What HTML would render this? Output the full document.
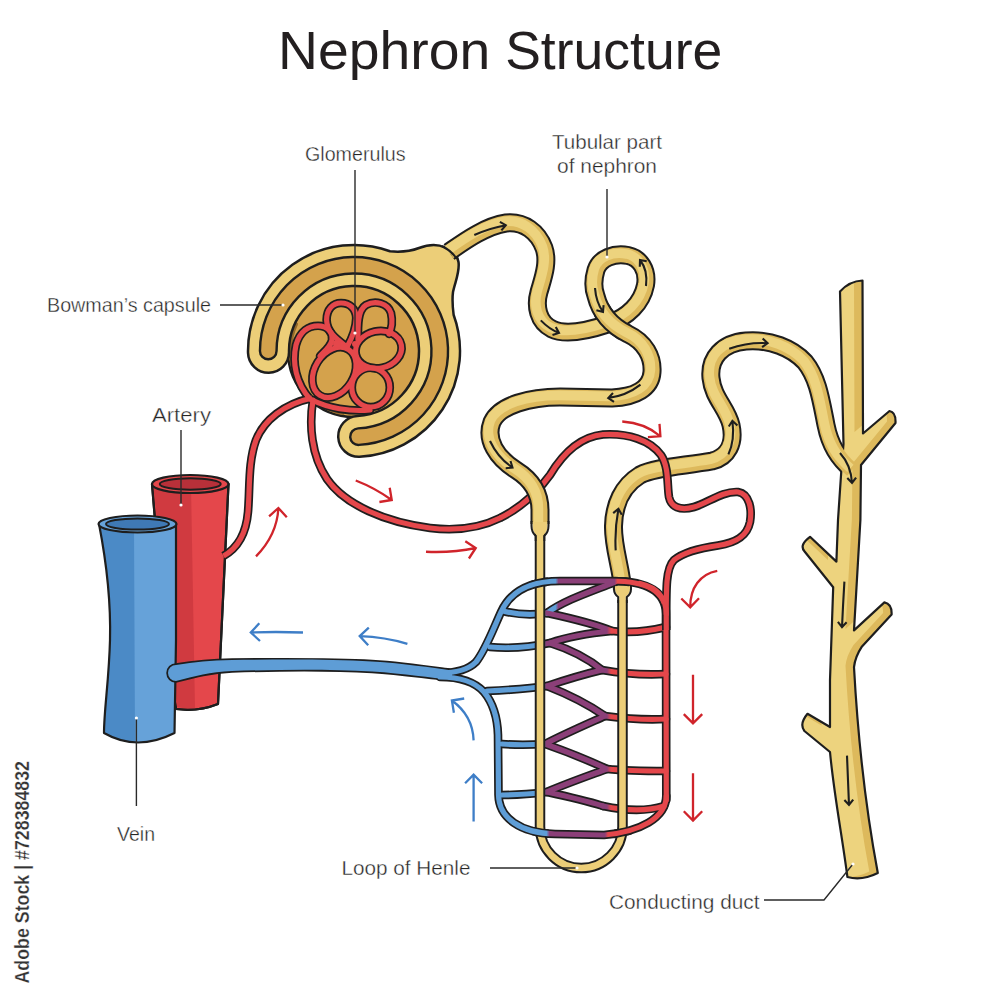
<!DOCTYPE html>
<html>
<head>
<meta charset="utf-8">
<style>
html,body{margin:0;padding:0;background:#fff;width:1000px;height:1000px;overflow:hidden;}
svg{display:block;}
text{font-family:"Liberation Sans",sans-serif;}
</style>
</head>
<body>
<svg width="1000" height="1000" viewBox="0 0 1000 1000">
<defs>
<linearGradient id="vr" gradientUnits="userSpaceOnUse" x1="0" y1="0" x2="1000" y2="0">
<stop offset="0.543" stop-color="#5e9dd6"/><stop offset="0.546" stop-color="#8b3f78"/><stop offset="0.607" stop-color="#8b3f78"/><stop offset="0.611" stop-color="#e4474b"/>
</linearGradient>
<linearGradient id="vt" gradientUnits="userSpaceOnUse" x1="0" y1="0" x2="1000" y2="0">
<stop offset="0.5555" stop-color="#5e9dd6"/><stop offset="0.5585" stop-color="#8b3f78"/><stop offset="0.6145" stop-color="#8b3f78"/><stop offset="0.6175" stop-color="#e4474b"/>
</linearGradient>
<linearGradient id="vb" gradientUnits="userSpaceOnUse" x1="0" y1="0" x2="1000" y2="0">
<stop offset="0.5465" stop-color="#5e9dd6"/><stop offset="0.5495" stop-color="#8b3f78"/><stop offset="0.605" stop-color="#8b3f78"/><stop offset="0.608" stop-color="#e4474b"/>
</linearGradient>
<mask id="nx" maskUnits="userSpaceOnUse" x="0" y="0" width="1000" height="1000"><rect width="1000" height="1000" fill="#000"/><circle cx="540" cy="581.5" r="9" fill="#fff"/><circle cx="622.5" cy="581" r="9" fill="#fff"/><circle cx="540" cy="833" r="9.5" fill="#fff"/><circle cx="622.5" cy="834" r="9.5" fill="#fff"/></mask>
<mask id="cx1" maskUnits="userSpaceOnUse" x="0" y="0" width="1000" height="1000"><rect width="1000" height="1000" fill="#000"/><circle cx="612" cy="322" r="19" fill="#fff"/></mask>
</defs>
<rect width="1000" height="1000" fill="#fff"/>
<g font-size="53" fill="#231f20"><text x="278" y="69.4" textLength="212.3" lengthAdjust="spacingAndGlyphs">Nephron</text><text x="505.2" y="69.4" textLength="217" lengthAdjust="spacingAndGlyphs">Structure</text></g>
<g fill="#262626" font-size="21" stroke="#fff" stroke-width="0.38">
<text x="305" y="161" textLength="100.6" lengthAdjust="spacingAndGlyphs">Glomerulus</text>
<text x="552" y="148.5" textLength="110" lengthAdjust="spacingAndGlyphs">Tubular part</text>
<text x="557" y="172.5" textLength="100" lengthAdjust="spacingAndGlyphs">of nephron</text>
<text x="47" y="312" textLength="164" lengthAdjust="spacingAndGlyphs">Bowman’s capsule</text>
<text x="152" y="421.5" textLength="59" lengthAdjust="spacingAndGlyphs">Artery</text>
<text x="117" y="841" textLength="38" lengthAdjust="spacingAndGlyphs">Vein</text>
<text x="341.5" y="874.5" textLength="129" lengthAdjust="spacingAndGlyphs">Loop of Henle</text>
<text x="609" y="908.5" textLength="150.5" lengthAdjust="spacingAndGlyphs">Conducting duct</text>
</g>
<text transform="translate(28.8,983.5) rotate(-90)" x="0" y="0" font-size="19.5" font-weight="bold" fill="#333" stroke="#fff" stroke-width="0.25" textLength="222.5" lengthAdjust="spacingAndGlyphs">Adobe Stock | #728384832</text>
<g id="diagram" stroke-linecap="round" stroke-linejoin="round">
<g id="artery">
<path d="M152,484 L165,640 L176,709 Q198,712 218,704 L228.5,484 Z" fill="#e4474b" stroke="#1e1e1e" stroke-width="2.2"/>
<path d="M153.2,486 L177,707 Q186,709 195,708.5 L191,486 Z" fill="#d03a40"/>
<path d="M152,484 L165,640 L176,709 Q198,712 218,704 L228.5,484" fill="none" stroke="#1e1e1e" stroke-width="2.2"/>
<ellipse cx="190.25" cy="484" rx="38.25" ry="9" fill="#e4474b" stroke="#1e1e1e" stroke-width="2.2"/>
<ellipse cx="190.25" cy="484" rx="30.5" ry="5.8" fill="#b73039" stroke="#1e1e1e" stroke-width="2"/>
</g>
<g id="vein">
<path d="M99,524 C106,560 111,600 110,640 C109,680 104,710 104,733 Q137,752 174.5,733 L176,640 L176,524 Z" fill="#66a2d9"/>
<path d="M99,524 C106,560 111,600 110,640 C109,680 104,710 104,733 Q118,741 135,742.5 L134,524 Z" fill="#4b8ac6"/>
<path d="M99,524 C106,560 111,600 110,640 C109,680 104,710 104,733 Q137,752 174.5,733 L176,640 L176,524" fill="none" stroke="#1e1e1e" stroke-width="2.2"/>
<ellipse cx="137.5" cy="524" rx="39" ry="8.5" fill="#66a2d9" stroke="#1e1e1e" stroke-width="2.2"/>
<ellipse cx="137.5" cy="524" rx="31.5" ry="5.6" fill="#3f79b5" stroke="#1e1e1e" stroke-width="2"/>
</g>
<g id="asc" fill="none" stroke-linecap="butt">
<path d="M622.5,590 C622,570 613,548 613.5,526 C614,505 622,486 640,475 C655,467 685,466 712,461 C728,457 735,443 731,425 C727,408 713,398 711,378 C709,358 722,343 746,341 C770,339 792,348 805,362 C818,378 821,400 826,425 C830,445 838,458 852,470" stroke="#1e1e1e" stroke-width="19"/>
<clipPath id="ductclip"><path d="M840,291.5 Q849.5,281 862.5,280.5 L863,433.5 L889.5,411 Q896,412 895.5,423 L861,465 L860.4,520 L854,630.4 L884.4,602.4 Q892,604 891.6,614.4 L862,646.4 Q855,657 854,667.2 C858,740 866,810 877.8,873 Q862,881 847.4,877 C842,835 834,795 830,752 L804.4,731 Q799,724 807.5,713.8 L830,727 L830,680 L833.2,587.2 L804.4,551.2 Q799,545 810,536.8 L836.4,561.6 L838,520 L841.5,468 L843.5,444 Z"/></clipPath>
<path d="M840,291.5 Q849.5,281 862.5,280.5 L863,433.5 L889.5,411 Q896,412 895.5,423 L861,465 L860.4,520 L854,630.4 L884.4,602.4 Q892,604 891.6,614.4 L862,646.4 Q855,657 854,667.2 C858,740 866,810 877.8,873 Q862,881 847.4,877 C842,835 834,795 830,752 L804.4,731 Q799,724 807.5,713.8 L830,727 L830,680 L833.2,587.2 L804.4,551.2 Q799,545 810,536.8 L836.4,561.6 L838,520 L841.5,468 L843.5,444 Z" fill="#ddb95c" stroke="none"/>
<g clip-path="url(#ductclip)"><path d="M840,291.5 Q849.5,281 862.5,280.5 L863,433.5 L889.5,411 Q896,412 895.5,423 L861,465 L860.4,520 L854,630.4 L884.4,602.4 Q892,604 891.6,614.4 L862,646.4 Q855,657 854,667.2 C858,740 866,810 877.8,873 Q862,881 847.4,877 C842,835 834,795 830,752 L804.4,731 Q799,724 807.5,713.8 L830,727 L830,680 L833.2,587.2 L804.4,551.2 Q799,545 810,536.8 L836.4,561.6 L838,520 L841.5,468 L843.5,444 Z" fill="#edd37e" transform="translate(-8.5,-1.5)"/></g>
<path d="M840,291.5 Q849.5,281 862.5,280.5 L863,433.5 L889.5,411 Q896,412 895.5,423 L861,465 L860.4,520 L854,630.4 L884.4,602.4 Q892,604 891.6,614.4 L862,646.4 Q855,657 854,667.2 C858,740 866,810 877.8,873 Q862,881 847.4,877 C842,835 834,795 830,752 L804.4,731 Q799,724 807.5,713.8 L830,727 L830,680 L833.2,587.2 L804.4,551.2 Q799,545 810,536.8 L836.4,561.6 L838,520 L841.5,468 L843.5,444 Z" fill="none" stroke="#1e1e1e" stroke-width="2.2" stroke-linejoin="round"/>
<path d="M622.5,590 C622,570 613,548 613.5,526 C614,505 622,486 640,475 C655,467 685,466 712,461 C728,457 735,443 731,425 C727,408 713,398 711,378 C709,358 722,343 746,341 C770,339 792,348 805,362 C818,378 821,400 826,425 C830,445 838,458 852,470" stroke="#ddb95c" stroke-width="15"/>
<path d="M622.5,590 C622,570 613,548 613.5,526 C614,505 622,486 640,475 C655,467 685,466 712,461 C728,457 735,443 731,425 C727,408 713,398 711,378 C709,358 722,343 746,341 C770,339 792,348 805,362 C818,378 821,400 826,425 C830,445 838,458 852,470" stroke="#edd37e" stroke-width="9.6" transform="translate(-1.6,-1.6)"/>
</g>
<g id="network"><g fill="none" stroke-linecap="round"><path d="M176,665 C195,662 210,660.5 232,660 C280,659.5 330,659 372,661.5 C405,663.5 430,667.5 452,670.5 L452,679.5 C430,678 405,673.5 372,671.5 C330,669 280,669.5 232,671 C210,672 195,676 176,681 A8,8 0 0 1 176,665 Z" fill="#1e1e1e" stroke="#1e1e1e" stroke-width="3.5"/><g stroke="#1e1e1e" stroke-width="8.6"><path d="M440,673 C456,673 468,670 476,662 C485,651 492,632 501,612 C510,592 528,581 560,581 L612,581 C645,581 666,590 666,614 L666.3,800"/><path d="M440,677 C458,677 474,681 484,692 C493,703 497.5,718 498,735 L498.5,795 C499,818 520,833 555,834 L604,835 C640,832 666,818 666.3,796"/><path d="M503,611 C515,614 528,616 547,613"/><path d="M490,647 C510,649 530,647 550,643"/><path d="M487,691 C508,690 528,689 547,686"/><path d="M502,744 C515,745 530,745 545,744"/><path d="M502,795 C515,795 530,794 547,792"/><path d="M615,582 C590,592 565,600 547,613"/><path d="M547,613 C570,618 595,624 612,631 C590,633 567,637 550,643 C572,650 590,660 602,670 C585,674 565,680 547,686 C570,695 592,707 605,716 C585,725 562,735 545,744 C568,752 592,762 607,769 C588,776 565,784 547,792 C570,797 590,802 603,806"/><path d="M612,631 C630,633 650,631 666,627"/><path d="M602,670 C625,674 648,675 666,674"/><path d="M605,716 C628,719 648,720 666,719"/><path d="M607,769 C628,771 648,771 666,771"/><path d="M603,806 C622,810 645,812 664,806"/></g><path d="M176,665 C195,662 210,660.5 232,660 C280,659.5 330,659 372,661.5 C405,663.5 430,667.5 452,670.5 L452,679.5 C430,678 405,673.5 372,671.5 C330,669 280,669.5 232,671 C210,672 195,676 176,681 A8,8 0 0 1 176,665 Z" fill="#5e9dd6"/><g stroke-width="5.2"><path d="M440,673 C456,673 468,670 476,662 C485,651 492,632 501,612 C510,592 528,581 560,581 L612,581 C645,581 666,590 666,614 L666.3,800" stroke="url(#vt)"/><path d="M440,677 C458,677 474,681 484,692 C493,703 497.5,718 498,735 L498.5,795 C499,818 520,833 555,834 L604,835 C640,832 666,818 666.3,796" stroke="url(#vb)"/><path d="M503,611 C515,614 528,616 547,613" stroke="url(#vr)"/><path d="M490,647 C510,649 530,647 550,643" stroke="url(#vr)"/><path d="M487,691 C508,690 528,689 547,686" stroke="url(#vr)"/><path d="M502,744 C515,745 530,745 545,744" stroke="url(#vr)"/><path d="M502,795 C515,795 530,794 547,792" stroke="url(#vr)"/><path d="M615,582 C590,592 565,600 547,613" stroke="url(#vt)"/><path d="M547,613 C570,618 595,624 612,631 C590,633 567,637 550,643 C572,650 590,660 602,670 C585,674 565,680 547,686 C570,695 592,707 605,716 C585,725 562,735 545,744 C568,752 592,762 607,769 C588,776 565,784 547,792 C570,797 590,802 603,806" stroke="url(#vr)"/><path d="M612,631 C630,633 650,631 666,627" stroke="url(#vr)"/><path d="M602,670 C625,674 648,675 666,674" stroke="url(#vr)"/><path d="M605,716 C628,719 648,720 666,719" stroke="url(#vr)"/><path d="M607,769 C628,771 648,771 666,771" stroke="url(#vr)"/><path d="M603,806 C622,810 645,812 664,806" stroke="url(#vr)"/></g></g></g>
<g id="capsule">
<circle cx="354" cy="351" r="66" fill="#d4a24c" stroke="#1e1e1e" stroke-width="2.5"/>
<path d="M342.97,413.54 A63.5,63.5 0 0 1 296.45,324.16" fill="none" stroke="#94692a" stroke-width="3.2" stroke-linecap="round"/>
<path d="M248.02,352.85 A106,106 0 0 1 390,251.3 C400,252.2 410,251.5 419,248 C428,244.5 437,243.5 445,247.5 C452,251 457,254 458.5,262 C460,272 455,282 453,292 C452,300 453,310 453.6,314.7 A106,106 0 0 1 359.55,456.85 A20.5,20.5 0 0 1 357.4,415.91 A65,65 0 1 0 289.01,352.13 A20.5,20.5 0 0 1 248.02,352.85 Z" fill="#ecce78" stroke="#1e1e1e" stroke-width="2.5"/>
<path d="M268.25,351 A85.75,85.75 0 1 1 358.49,436.63" fill="none" stroke="#1e1e1e" stroke-width="19"/>
<path d="M268.25,351 A85.75,85.75 0 1 1 358.49,436.63" fill="none" stroke="#d4a24c" stroke-width="14.2"/>
</g>
<g id="thin" fill="none" stroke-linecap="butt">
<path d="M540,524 L540,826.75 A41.25,41.25 0 0 0 622.5,826.75 L622.5,600" stroke="#1e1e1e" stroke-width="10.5"/>
<path d="M540,524 L540,826.75 A41.25,41.25 0 0 0 622.5,826.75 L622.5,600" stroke="#ecce78" stroke-width="6.6"/>
<path d="M615,585.5 L630,585.5 L630,589 Q630,593.5 625.8,596.5 L625.8,603 L619.2,603 L619.2,596.5 Q615,593.5 615,589 Z" fill="#ecce78" stroke="none"/>
<path d="M614,586 L614,589 Q614,594 618.2,597 L618.2,603 M631,586 L631,589 Q631,594 626.8,597 L626.8,603" stroke="#1e1e1e" stroke-width="2"/>
</g>
<g mask="url(#nx)"><g fill="none" stroke-linecap="round"><path d="M176,665 C195,662 210,660.5 232,660 C280,659.5 330,659 372,661.5 C405,663.5 430,667.5 452,670.5 L452,679.5 C430,678 405,673.5 372,671.5 C330,669 280,669.5 232,671 C210,672 195,676 176,681 A8,8 0 0 1 176,665 Z" fill="#1e1e1e" stroke="#1e1e1e" stroke-width="3.5"/><g stroke="#1e1e1e" stroke-width="8.6"><path d="M440,673 C456,673 468,670 476,662 C485,651 492,632 501,612 C510,592 528,581 560,581 L612,581 C645,581 666,590 666,614 L666.3,800"/><path d="M440,677 C458,677 474,681 484,692 C493,703 497.5,718 498,735 L498.5,795 C499,818 520,833 555,834 L604,835 C640,832 666,818 666.3,796"/><path d="M503,611 C515,614 528,616 547,613"/><path d="M490,647 C510,649 530,647 550,643"/><path d="M487,691 C508,690 528,689 547,686"/><path d="M502,744 C515,745 530,745 545,744"/><path d="M502,795 C515,795 530,794 547,792"/><path d="M615,582 C590,592 565,600 547,613"/><path d="M547,613 C570,618 595,624 612,631 C590,633 567,637 550,643 C572,650 590,660 602,670 C585,674 565,680 547,686 C570,695 592,707 605,716 C585,725 562,735 545,744 C568,752 592,762 607,769 C588,776 565,784 547,792 C570,797 590,802 603,806"/><path d="M612,631 C630,633 650,631 666,627"/><path d="M602,670 C625,674 648,675 666,674"/><path d="M605,716 C628,719 648,720 666,719"/><path d="M607,769 C628,771 648,771 666,771"/><path d="M603,806 C622,810 645,812 664,806"/></g><path d="M176,665 C195,662 210,660.5 232,660 C280,659.5 330,659 372,661.5 C405,663.5 430,667.5 452,670.5 L452,679.5 C430,678 405,673.5 372,671.5 C330,669 280,669.5 232,671 C210,672 195,676 176,681 A8,8 0 0 1 176,665 Z" fill="#5e9dd6"/><g stroke-width="5.2"><path d="M440,673 C456,673 468,670 476,662 C485,651 492,632 501,612 C510,592 528,581 560,581 L612,581 C645,581 666,590 666,614 L666.3,800" stroke="url(#vt)"/><path d="M440,677 C458,677 474,681 484,692 C493,703 497.5,718 498,735 L498.5,795 C499,818 520,833 555,834 L604,835 C640,832 666,818 666.3,796" stroke="url(#vb)"/><path d="M503,611 C515,614 528,616 547,613" stroke="url(#vr)"/><path d="M490,647 C510,649 530,647 550,643" stroke="url(#vr)"/><path d="M487,691 C508,690 528,689 547,686" stroke="url(#vr)"/><path d="M502,744 C515,745 530,745 545,744" stroke="url(#vr)"/><path d="M502,795 C515,795 530,794 547,792" stroke="url(#vr)"/><path d="M615,582 C590,592 565,600 547,613" stroke="url(#vt)"/><path d="M547,613 C570,618 595,624 612,631 C590,633 567,637 550,643 C572,650 590,660 602,670 C585,674 565,680 547,686 C570,695 592,707 605,716 C585,725 562,735 545,744 C568,752 592,762 607,769 C588,776 565,784 547,792 C570,797 590,802 603,806" stroke="url(#vr)"/><path d="M612,631 C630,633 650,631 666,627" stroke="url(#vr)"/><path d="M602,670 C625,674 648,675 666,674" stroke="url(#vr)"/><path d="M605,716 C628,719 648,720 666,719" stroke="url(#vr)"/><path d="M607,769 C628,771 648,771 666,771" stroke="url(#vr)"/><path d="M603,806 C622,810 645,812 664,806" stroke="url(#vr)"/></g></g></g>
<g id="redgroup" fill="none" stroke-linecap="round">
<g stroke="#1e1e1e" stroke-width="8.6"><path d="M310,399 C296,383 292,363 296,345 C300,331 309,325.8 318,325.8 C327,325.8 333,332 332,340 C331,346 326,350 320,356"/><path d="M347,347 C338,340 327,333 326.6,320 C326.6,309 333,303 341,303 C350,303 356,309 356.2,318 C356,330 351,340 347,347 Z"/><path d="M358,340 C357.8,325 357.8,310 366,305 C375,300 388,303 391,313 C393,322 392,328 389,334"/><path d="M312,400 C328,408 350,412 370,410"/><ellipse cx="334.2" cy="372.4" rx="27" ry="19.5" transform="rotate(-58 334.2 372.4)"/><ellipse cx="378.6" cy="349.6" rx="23.2" ry="18.5" transform="rotate(-12 378.6 349.6)"/><ellipse cx="370.8" cy="387.4" rx="19" ry="19.6"/><path d="M223.5,556 C236,549 246,536 248,512 C250,488 248,462 256,440 C264,420 284,404 312,398" stroke-linecap="butt"/><path d="M313,400 C309,425 311,455 327,479 C345,505 385,522 430,528 C455,531 480,528 500,518"/><path d="M500,518 C520,508 537,493 550,475 C562,455 578,437 603,434.5 C628,433 650,440 661,455 C669,467 667,485 669,497 C671,507 680,511 694,507 C708,503 722,491 738,492 C750,494 752,510 750,522 C747,537 735,543 718,545.5 C700,548 684,552 674,560 C666,568 666,585 666.3,630" stroke-linecap="butt"/></g>
<g stroke="#e4474b" stroke-width="5.2"><path d="M310,399 C296,383 292,363 296,345 C300,331 309,325.8 318,325.8 C327,325.8 333,332 332,340 C331,346 326,350 320,356"/><path d="M347,347 C338,340 327,333 326.6,320 C326.6,309 333,303 341,303 C350,303 356,309 356.2,318 C356,330 351,340 347,347 Z"/><path d="M358,340 C357.8,325 357.8,310 366,305 C375,300 388,303 391,313 C393,322 392,328 389,334"/><path d="M312,400 C328,408 350,412 370,410"/><ellipse cx="334.2" cy="372.4" rx="27" ry="19.5" transform="rotate(-58 334.2 372.4)"/><ellipse cx="378.6" cy="349.6" rx="23.2" ry="18.5" transform="rotate(-12 378.6 349.6)"/><ellipse cx="370.8" cy="387.4" rx="19" ry="19.6"/><path d="M223.5,556 C236,549 246,536 248,512 C250,488 248,462 256,440 C264,420 284,404 312,398" stroke-linecap="butt"/><path d="M313,400 C309,425 311,455 327,479 C345,505 385,522 430,528 C455,531 480,528 500,518"/><path d="M500,518 C520,508 537,493 550,475 C562,455 578,437 603,434.5 C628,433 650,440 661,455 C669,467 667,485 669,497 C671,507 680,511 694,507 C708,503 722,491 738,492 C750,494 752,510 750,522 C747,537 735,543 718,545.5 C700,548 684,552 674,560 C666,568 666,585 666.3,630" stroke-linecap="butt"/><path d="M640,583.5 C655,587 666,596 666.3,614"/><g fill="#e4474b" stroke="none"><circle cx="337" cy="344" r="4"/><circle cx="360" cy="367" r="3.5"/><circle cx="355" cy="344" r="3"/></g></g>
</g>
<g id="pct" fill="none" stroke-linecap="butt">
<path d="M449,252 C462,243 485,226 506,223 C524,221 538,232 544,248 C549,262 543,278 539,292 C535,306 538,322 552,329 C566,336 590,330 608,324 C628,317 642,303 645.5,285 C648,270 640,258 628,255.5 C614,253 600,258 596,270 C593,280 593,288 596,296 C600,312 610,325 628,334 C645,342 653,357 652,372 C651,388 636,397 612,398 L560,397 C530,397 500,405 492,422 C485,440 497,458 516,470 C532,480 540,494 540,510 L540,524" stroke="#1e1e1e" stroke-width="19"/><path d="M449,252 C462,243 485,226 506,223 C524,221 538,232 544,248 C549,262 543,278 539,292 C535,306 538,322 552,329 C566,336 590,330 608,324 C628,317 642,303 645.5,285 C648,270 640,258 628,255.5 C614,253 600,258 596,270 C593,280 593,288 596,296 C600,312 610,325 628,334 C645,342 653,357 652,372 C651,388 636,397 612,398 L560,397 C530,397 500,405 492,422 C485,440 497,458 516,470 C532,480 540,494 540,510 L540,524" stroke="#ddb95c" stroke-width="15"/><path d="M449,252 C462,243 485,226 506,223 C524,221 538,232 544,248 C549,262 543,278 539,292 C535,306 538,322 552,329 C566,336 590,330 608,324 C628,317 642,303 645.5,285 C648,270 640,258 628,255.5 C614,253 600,258 596,270 C593,280 593,288 596,296 C600,312 610,325 628,334 C645,342 653,357 652,372 C651,388 636,397 612,398 L560,397 C530,397 500,405 492,422 C485,440 497,458 516,470 C532,480 540,494 540,510 L540,524" stroke="#edd37e" stroke-width="9.6" transform="translate(-1.6,-1.6)"/>
<g mask="url(#cx1)"><path d="M596,296 C600,312 610,325 628,334 C645,342 653,357 652,372 C651,388 636,397 612,398 L560,397 C530,397 500,405 492,422 C485,440 497,458 516,470 C532,480 540,494 540,510 L540,524" stroke="#1e1e1e" stroke-width="19"/><path d="M596,296 C600,312 610,325 628,334 C645,342 653,357 652,372 C651,388 636,397 612,398 L560,397 C530,397 500,405 492,422 C485,440 497,458 516,470 C532,480 540,494 540,510 L540,524" stroke="#ddb95c" stroke-width="15"/><path d="M596,296 C600,312 610,325 628,334 C645,342 653,357 652,372 C651,388 636,397 612,398 L560,397 C530,397 500,405 492,422 C485,440 497,458 516,470 C532,480 540,494 540,510 L540,524" stroke="#edd37e" stroke-width="9.6" transform="translate(-1.6,-1.6)"/></g>
<path d="M442,246 Q451,250.5 456.8,258.8" stroke="#1e1e1e" stroke-width="2"/>
<path d="M532.5,522 L547.5,522 L547.5,526 Q547.5,531.5 543.3,535.5 L543.3,541 L536.7,541 L536.7,535.5 Q532.5,531.5 532.5,526 Z" fill="#ecce78"/>
<path d="M531.5,521 L531.5,526 Q531.5,532 535.7,536 L535.7,541 M548.5,521 L548.5,526 Q548.5,532 544.3,536 L544.3,541" stroke="#1e1e1e" stroke-width="2"/>
</g>
<g id="arrows" fill="none" stroke-linecap="butt" stroke-linejoin="miter"><path d="M256,556.4 Q277,535 278.4,508 M286.8,517.3 L278.4,508 L269.1,516.4" stroke="#d0242b" stroke-width="2.3"/>
<path d="M355.75,480.5 Q375,488 391.75,500 M379.4,502.0 L391.75,500 L389.7,487.7" stroke="#d0242b" stroke-width="2.3"/>
<path d="M426,551.75 Q452,553 475.75,548 M468.9,558.5 L475.75,548 L465.3,541.2" stroke="#d0242b" stroke-width="2.3"/>
<path d="M622.25,421.5 Q645,423 660.4,436.25 M647.9,437.2 L660.4,436.25 L659.5,423.8" stroke="#d0242b" stroke-width="2.3"/>
<path d="M717.25,570.8 C700,574 690,588 690.25,607.25 M681.3,598.5 L690.25,607.25 L699.0,598.3" stroke="#d0242b" stroke-width="2.3"/>
<path d="M693,674.75 L693,723.3 M683.8,714.1 L693,723.3 L702.2,714.1" stroke="#d0242b" stroke-width="2.3"/>
<path d="M693,773.3 L693,820.5 M683.8,811.3 L693,820.5 L702.2,811.3" stroke="#d0242b" stroke-width="2.3"/>
<path d="M303,632.5 Q275,631.5 250.8,632.5 M259.3,623.3 L250.8,632.5 L260.0,641.0" stroke="#3e7ec7" stroke-width="2.3"/>
<path d="M407.4,643.8 Q385,637 359.7,636.1 M368.8,627.6 L359.7,636.1 L368.2,645.2" stroke="#3e7ec7" stroke-width="2.3"/>
<path d="M473.6,740.4 C473,722 465,710 451.9,700.5 M464.2,698.5 L451.9,700.5 L453.9,712.8" stroke="#3e7ec7" stroke-width="2.3"/>
<path d="M473.6,821.6 L473.6,774.7 M482.1,783.2 L473.6,774.7 L465.1,783.2" stroke="#3e7ec7" stroke-width="2.3"/>
<path d="M474.3,235 Q490,228 505.8,225.2 M501.4,230.4 L505.8,225.2 L499.9,221.8" stroke="#1e1e1e" stroke-width="2.1"/>
<path d="M540.8,320.4 Q549,329 559,333 M552.5,335.1 L559,333 L555.8,327.0" stroke="#1e1e1e" stroke-width="2.1"/>
<path d="M595,288 Q596,302 603,312 M596.4,310.2 L603,312 L603.6,305.2" stroke="#1e1e1e" stroke-width="2.1"/>
<path d="M646,286 Q648,270 640,260 M646.7,261.3 L640,260 L639.8,266.8" stroke="#1e1e1e" stroke-width="2.1"/>
<path d="M640.5,384.7 Q626,396 608.3,398 M613.0,393.1 L608.3,398 L614.0,401.8" stroke="#1e1e1e" stroke-width="2.1"/>
<path d="M490,441 Q498,458 512.5,467.5 M505.7,468.3 L512.5,467.5 L510.5,461.0" stroke="#1e1e1e" stroke-width="2.1"/>
<path d="M615.7,550.4 Q614.5,530 618.4,508.8 M621.8,514.7 L618.4,508.8 L613.2,513.1" stroke="#1e1e1e" stroke-width="2.1"/>
<path d="M729.2,348.8 Q748,342 767.6,343.2 M762.1,347.2 L767.6,343.2 L762.7,338.5" stroke="#1e1e1e" stroke-width="2.1"/>
<path d="M728.4,454.4 Q735,440 732.4,420.8 M737.4,425.4 L732.4,420.8 L728.8,426.5" stroke="#1e1e1e" stroke-width="2.1"/>
<path d="M840,453 Q851,465 852,483 M847.3,478.0 L852,483 L856.1,477.6" stroke="#1e1e1e" stroke-width="2.1"/>
<path d="M844.4,581.6 Q843,605 842,627.2 M837.9,621.8 L842,627.2 L846.6,622.2" stroke="#1e1e1e" stroke-width="2.1"/>
<path d="M847,755.6 Q848,780 849,805 M844.4,800.0 L849,805 L853.2,799.6" stroke="#1e1e1e" stroke-width="2.1"/></g>
</g>
<g stroke="#2a2a2a" stroke-width="1.4" fill="none">
<path d="M355,170 V333"/>
<path d="M607,189 V257"/>
<path d="M220,305 H283"/>
<path d="M181,430 V505"/>
<path d="M136.4,718 V806"/>
<path d="M490,868 H577"/>
<path d="M764,900 H824 L853,864"/>
</g>
<g fill="#fff">
<circle cx="355" cy="333" r="1.6"/>
<circle cx="607" cy="257" r="1.6"/>
<circle cx="283" cy="305" r="1.6"/>
<circle cx="181" cy="505" r="1.6"/>
<circle cx="136.4" cy="718" r="1.6"/>
<circle cx="577" cy="868" r="1.6"/>
<circle cx="853" cy="864" r="1.6"/>
</g>
</svg>
</body>
</html>
